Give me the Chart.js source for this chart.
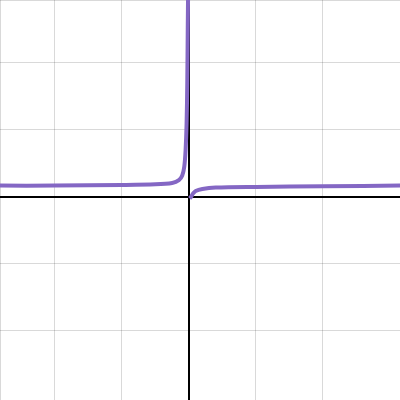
<!DOCTYPE html>
<html>
<head>
<script src="https://cdn.jsdelivr.net/npm/chart.js@4"></script>
<style>
  html, body { margin: 0; padding: 0; background: #fff; }
  #wrap { width: 400px; height: 400px; }
</style>
</head>
<body>
<div id="wrap"><canvas id="chart"></canvas></div>
<script>
// curve points (graph units)
const leftX = [-2.85, -2.0, -1.0, -0.5, -0.25, -0.15, -0.1, -0.07, -0.05, -0.035, -0.025, -0.018, -0.012];
const leftY = [0.17, 0.17, 0.18, 0.19, 0.21, 0.25, 0.32, 0.45, 0.7, 1.1, 1.7, 2.5, 3.1];
const rightX = [0.01, 0.03, 0.06, 0.1, 0.2, 0.4, 1.0, 2.0, 3.2];
const rightY = [-0.02, 0.0, 0.05, 0.09, 0.12, 0.14, 0.15, 0.16, 0.17];

const toPoints = (xs, ys) => xs.map((x, i) => ({ x: x, y: ys[i] }));
const purple = '#8467c4';

const gridOpts = {
    color: ctx => ctx.tick && ctx.tick.value === 0 ? '#000000' : 'rgba(0,0,0,0.15)',
    lineWidth: ctx => ctx.tick && ctx.tick.value === 0 ? 2 : 1,
    drawTicks: false
};

new Chart(document.getElementById('chart'), {
    type: 'scatter',
    data: {
        datasets: [
            { data: toPoints(leftX, leftY), showLine: true, borderColor: purple, borderWidth: 4, pointRadius: 0, tension: 0.3 },
            { data: toPoints(rightX, rightY), showLine: true, borderColor: purple, borderWidth: 4, pointRadius: 0, tension: 0.3 }
        ]
    },
    options: {
        responsive: true,
        maintainAspectRatio: false,
        animation: false,
        layout: { padding: 0 },
        plugins: { legend: { display: false }, tooltip: { enabled: false } },
        scales: {
            x: {
                type: 'linear', min: -2.82, max: 3.15,
                ticks: { display: false, stepSize: 1 },
                grid: gridOpts,
                border: { display: false }
            },
            y: {
                type: 'linear', min: -3.03, max: 2.94,
                ticks: { display: false, stepSize: 1 },
                grid: gridOpts,
                border: { display: false }
            }
        }
    }
});
</script>
</body>
</html>
